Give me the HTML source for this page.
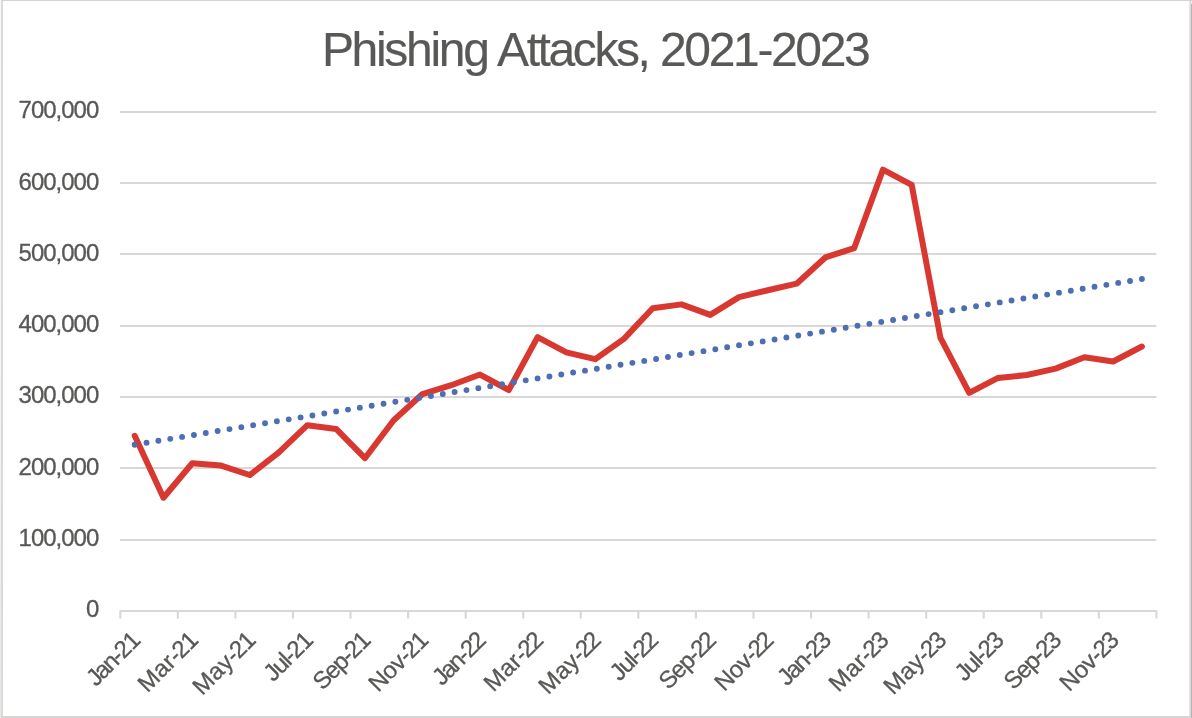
<!DOCTYPE html>
<html lang="en"><head><meta charset="utf-8"><title>Phishing Attacks, 2021-2023</title>
<style>html,body{margin:0;padding:0;background:#fff;}body{width:1192px;height:718px;overflow:hidden;}svg{display:block;}text{font-family:"Liberation Sans",Arial,Helvetica,sans-serif;fill:#585856;}.t{font-size:48px;letter-spacing:-1.6px;stroke:#585856;stroke-width:0.2px;}.a{font-size:24px;letter-spacing:-1px;stroke:#585856;stroke-width:0.3px;}.x{font-size:24px;letter-spacing:0;stroke:#585856;stroke-width:0.3px;}</style></head><body>
<svg width="1192" height="718" viewBox="0 0 1192 718">
<rect x="0" y="0" width="1192" height="718" fill="#fff"/>
<defs><linearGradient id="lg" x1="0" y1="0" x2="0" y2="1"><stop offset="0" stop-color="#f8f8f8"/><stop offset="0.5" stop-color="#f5f5f4"/><stop offset="1" stop-color="#e8e9e5"/></linearGradient></defs>
<rect x="0" y="0" width="1" height="718" fill="url(#lg)"/>
<rect x="1" y="0" width="2" height="718" fill="#dbdad8"/>
<rect x="1189" y="0" width="1" height="718" fill="#e8e7e5"/>
<rect x="1190" y="0" width="1" height="718" fill="#dbdad8"/>
<rect x="1191" y="0" width="1" height="718" fill="#b4b4b4"/>
<rect x="1191" y="0" width="1" height="4" fill="#ebebe9"/>
<rect x="1" y="0" width="1191" height="1" fill="#d5d4d2"/>
<rect x="1" y="716" width="1190" height="2" fill="#d6d5d4"/>
<g fill="#d9d8d6"><rect x="120" y="539" width="1036.4" height="2"/><rect x="120" y="467" width="1036.4" height="2"/><rect x="120" y="396" width="1036.4" height="2"/><rect x="120" y="325" width="1036.4" height="2"/><rect x="120" y="253" width="1036.4" height="2"/><rect x="120" y="182" width="1036.4" height="2"/><rect x="120" y="111" width="1036.4" height="2"/></g>
<g fill="#d9d8d6"><rect x="176.76" y="611" width="2.2" height="7.5"/><rect x="234.32" y="611" width="2.2" height="7.5"/><rect x="291.88" y="611" width="2.2" height="7.5"/><rect x="349.44" y="611" width="2.2" height="7.5"/><rect x="407.01" y="611" width="2.2" height="7.5"/><rect x="464.57" y="611" width="2.2" height="7.5"/><rect x="522.13" y="611" width="2.2" height="7.5"/><rect x="579.69" y="611" width="2.2" height="7.5"/><rect x="637.25" y="611" width="2.2" height="7.5"/><rect x="694.81" y="611" width="2.2" height="7.5"/><rect x="752.37" y="611" width="2.2" height="7.5"/><rect x="809.93" y="611" width="2.2" height="7.5"/><rect x="867.49" y="611" width="2.2" height="7.5"/><rect x="925.06" y="611" width="2.2" height="7.5"/><rect x="982.62" y="611" width="2.2" height="7.5"/><rect x="1040.18" y="611" width="2.2" height="7.5"/><rect x="1097.74" y="611" width="2.2" height="7.5"/></g>
<path d="M120.30 618.5V611H1156.40V618.5" fill="none" stroke="#d9d8d6" stroke-width="2.1" stroke-linejoin="round"/>
<text class="t" y="65.8"><tspan x="321.9" style="letter-spacing:-2.3px">Phishing</tspan> <tspan x="497.1" style="letter-spacing:-2.42px">Attacks,</tspan> <tspan x="660" style="letter-spacing:-2.35px">2021-2023</tspan></text>
<text class="a" x="98.3" y="617.3" text-anchor="end">0</text>
<text class="a" x="98.3" y="546.014" text-anchor="end">100,000</text>
<text class="a" x="98.3" y="474.729" text-anchor="end">200,000</text>
<text class="a" x="98.3" y="403.443" text-anchor="end">300,000</text>
<text class="a" x="98.3" y="332.157" text-anchor="end">400,000</text>
<text class="a" x="98.3" y="260.871" text-anchor="end">500,000</text>
<text class="a" x="98.3" y="189.586" text-anchor="end">600,000</text>
<text class="a" x="98.3" y="118.3" text-anchor="end">700,000</text>
<text class="x" text-anchor="end" transform="translate(142.05 641.24) rotate(-45)" dx="0 -2 -1.85 -1.5 -2 -1">Jan-21</text>
<text class="x" text-anchor="end" transform="translate(199.61 641.24) rotate(-45)" dx="0 0.3 0.2 0.2 -2 -1">Mar-21</text>
<text class="x" text-anchor="end" transform="translate(257.16 641.24) rotate(-45)" dx="0 0.3 0.2 0.1 -2 -1">May-21</text>
<text class="x" text-anchor="end" transform="translate(314.72 641.24) rotate(-45)" dx="0 -1.3 -1.3 -1.3 -2 -1">Jul-21</text>
<text class="x" text-anchor="end" transform="translate(372.27 641.24) rotate(-45)" dx="0 -1.3 -1.3 -1.34 -2 -1">Sep-21</text>
<text class="x" text-anchor="end" transform="translate(429.83 641.24) rotate(-45)" dx="0 -0.4 -0.4 -0.5 -2 -1">Nov-21</text>
<text class="x" text-anchor="end" transform="translate(487.38 641.24) rotate(-45)" dx="0 -2 -1.85 -1.5 -2 -2">Jan-22</text>
<text class="x" text-anchor="end" transform="translate(544.94 641.24) rotate(-45)" dx="0 0.3 0.2 0.2 -2 -2">Mar-22</text>
<text class="x" text-anchor="end" transform="translate(602.49 641.24) rotate(-45)" dx="0 0.3 0.2 0.1 -2 -2">May-22</text>
<text class="x" text-anchor="end" transform="translate(660.05 641.24) rotate(-45)" dx="0 -1.3 -1.3 -1.3 -2 -2">Jul-22</text>
<text class="x" text-anchor="end" transform="translate(717.61 641.24) rotate(-45)" dx="0 -1.3 -1.3 -1.34 -2 -2">Sep-22</text>
<text class="x" text-anchor="end" transform="translate(775.16 641.24) rotate(-45)" dx="0 -0.4 -0.4 -0.5 -2 -2">Nov-22</text>
<text class="x" text-anchor="end" transform="translate(832.72 641.24) rotate(-45)" dx="0 -2 -1.85 -1.5 -2 -1.6">Jan-23</text>
<text class="x" text-anchor="end" transform="translate(890.27 641.24) rotate(-45)" dx="0 0.3 0.2 0.2 -2 -1.6">Mar-23</text>
<text class="x" text-anchor="end" transform="translate(947.83 641.24) rotate(-45)" dx="0 0.3 0.2 0.1 -2 -1.6">May-23</text>
<text class="x" text-anchor="end" transform="translate(1005.38 641.24) rotate(-45)" dx="0 -1.3 -1.3 -1.3 -2 -1.6">Jul-23</text>
<text class="x" text-anchor="end" transform="translate(1062.94 641.24) rotate(-45)" dx="0 -1.3 -1.3 -1.34 -2 -1.6">Sep-23</text>
<text class="x" text-anchor="end" transform="translate(1120.49 641.24) rotate(-45)" dx="0 -0.4 -0.4 -0.5 -2 -1.6">Nov-23</text>
<polyline points="134.69,435.80 163.47,497.73 192.24,463.29 221.02,465.54 249.80,475.01 278.58,452.66 307.36,425.20 336.13,428.95 364.91,458.20 393.69,420.29 422.47,394.07 451.24,385.20 480.02,374.55 508.80,390.03 537.58,337.06 566.36,352.34 595.13,359.19 623.91,338.89 652.69,308.22 681.47,304.37 710.24,314.92 739.02,297.13 767.80,290.28 796.58,283.70 825.36,257.42 854.13,248.16 882.91,169.70 911.69,184.86 940.47,337.97 969.24,392.87 998.02,377.90 1026.80,375.04 1055.58,368.63 1084.36,357.22 1113.13,361.50 1141.91,346.53" fill="none" stroke="#d93831" stroke-width="6" stroke-linecap="round" stroke-linejoin="round"/>
<line x1="134.69" y1="444.69" x2="1142.21" y2="278.97" stroke="#4e6eb4" stroke-width="5.9" stroke-linecap="round" stroke-dasharray="0 12.0089"/>
</svg></body></html>
